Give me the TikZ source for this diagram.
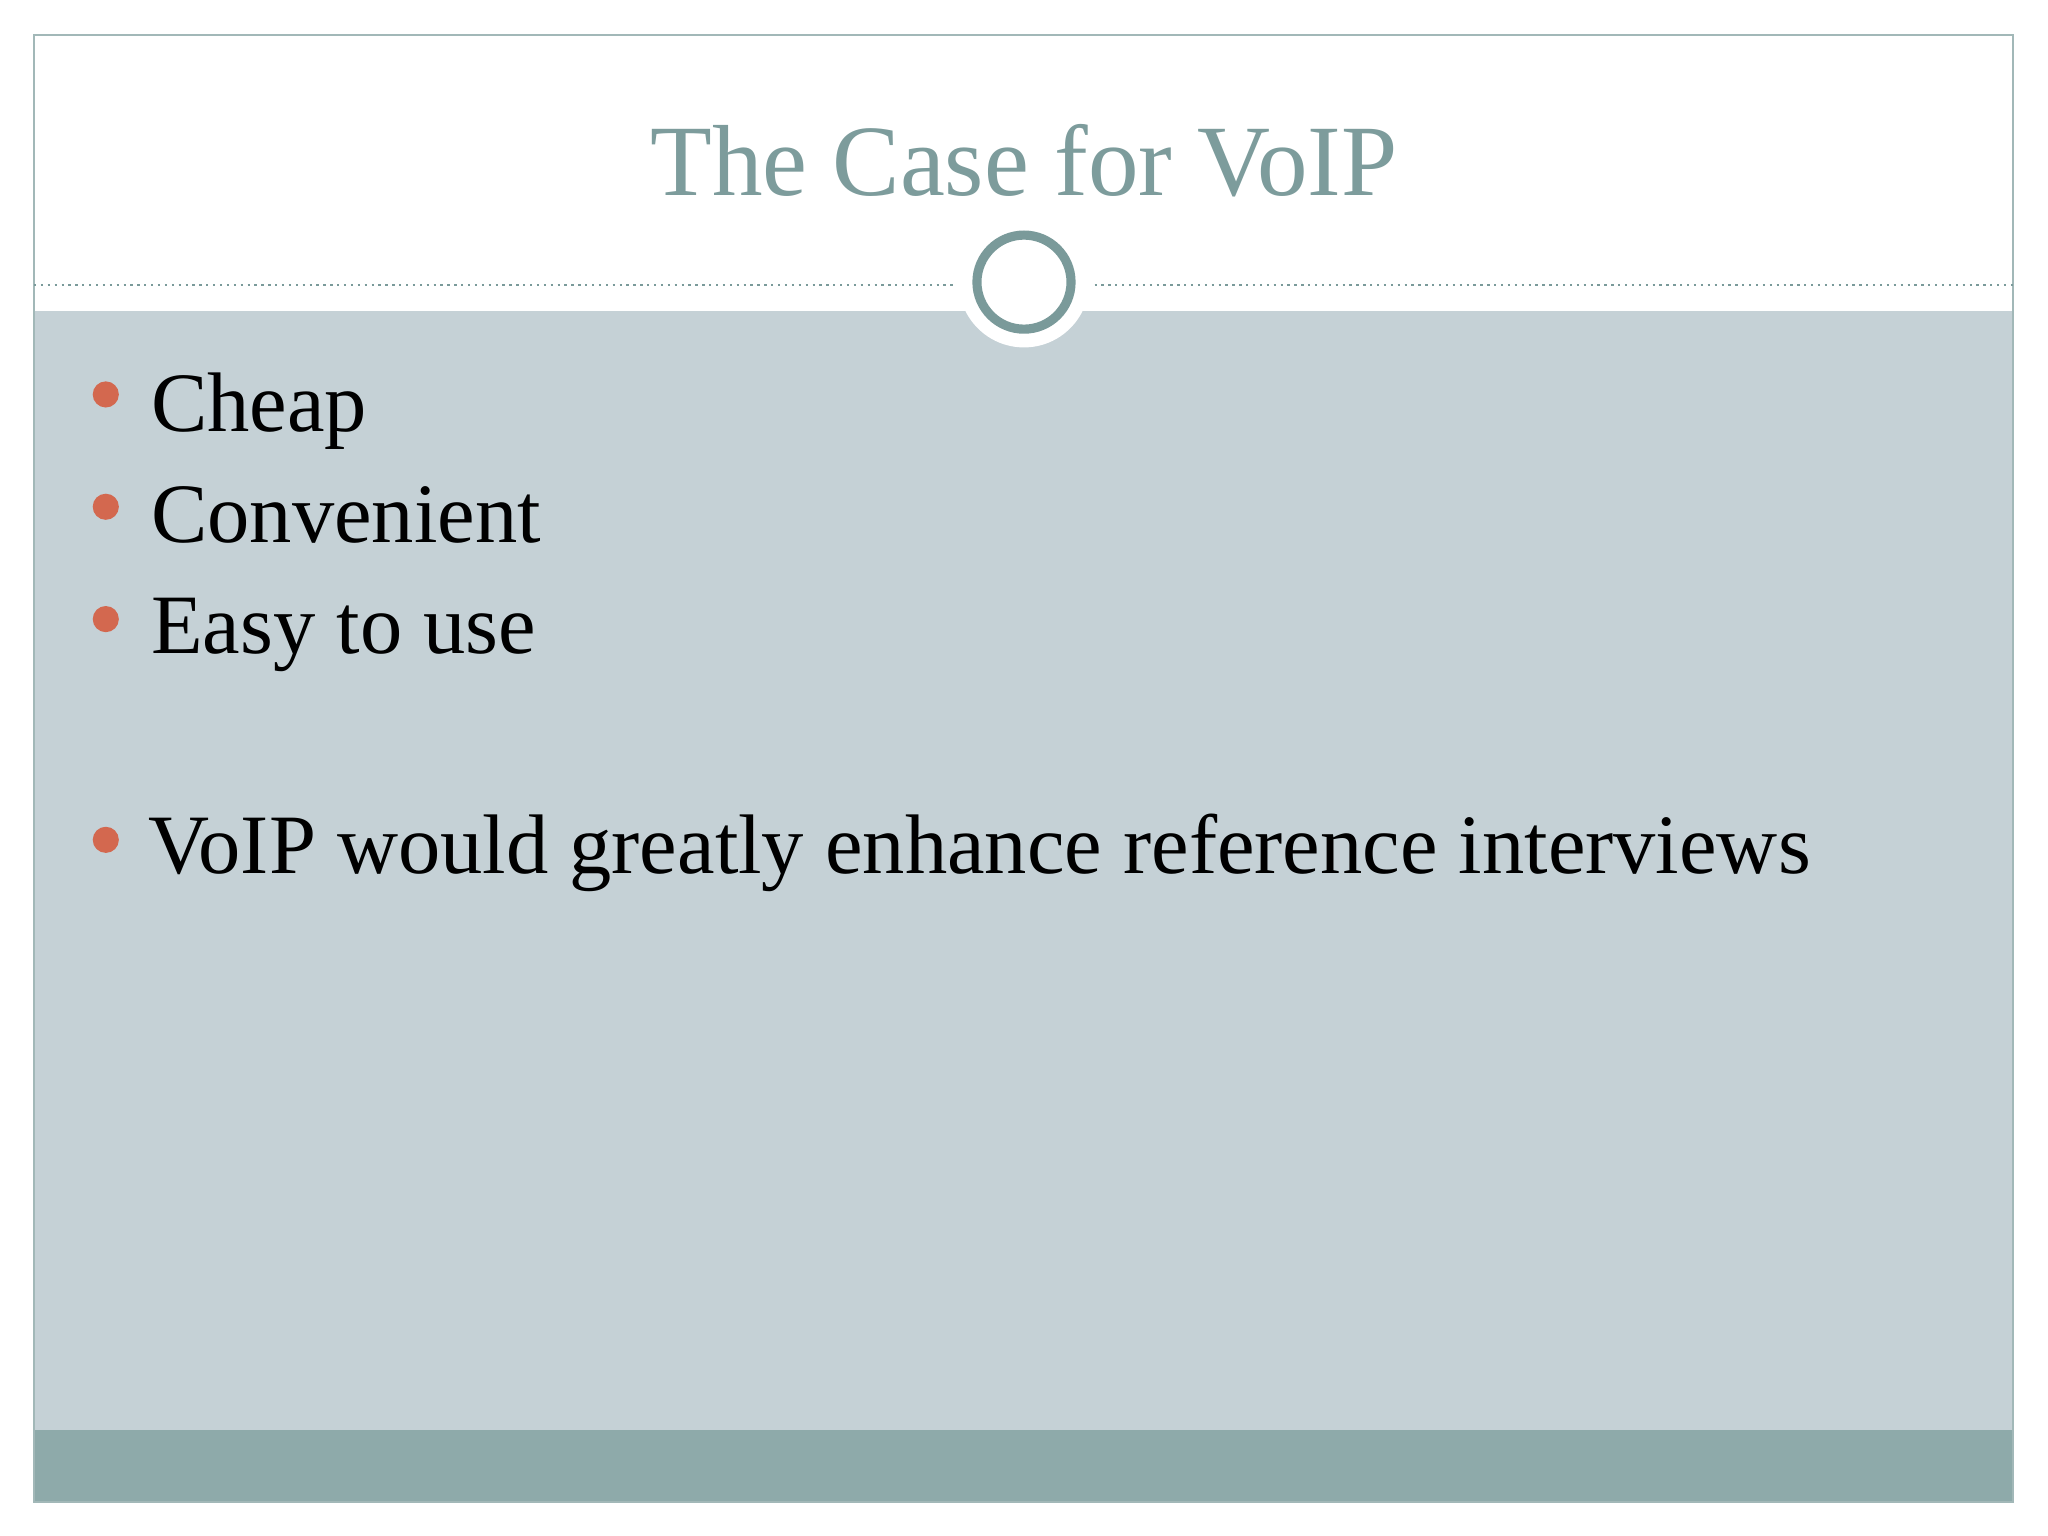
\documentclass[tikz,border=0pt]{standalone}
\usepackage{fontspec}
\setmainfont{Liberation Serif}
\definecolor{band}{HTML}{C5D1D6}
\definecolor{foot}{HTML}{8EAAAA}
\definecolor{ttl}{HTML}{7D9C9C}
\definecolor{ring}{HTML}{7A9A9A}
\definecolor{dot}{HTML}{D3684F}
\tikzset{item/.style={anchor=base west,inner sep=0pt,font=\fontsize{18.4}{22}\selectfont,text=black},
bul/.style={circle,fill=dot,minimum size=20*0.2845pt,inner sep=0pt}}
\begin{document}
\begin{tikzpicture}[x=0.01cm,y=-0.01cm]
\useasboundingbox (0,0) rectangle (1568,1176);
\fill[white] (0,0) rectangle (1568,1176);
\fill[band] (26,238) rectangle (1541,1095);
\fill[foot] (26,1095) rectangle (1541,1150);
\draw[ring!70,line width=0.4pt] (26,27) rectangle (1541,1150);
\draw[ring,densely dotted,line width=0.5pt] (26,218) -- (730,218);
\draw[ring,densely dotted,line width=0.5pt] (838,218) -- (1541,218);
\fill[white] (784,216) circle (50);
\node (ring) [circle,draw=ring,line width=7*0.2845pt,minimum size=72*0.2845pt,inner sep=0pt] at (784,216) {};
\node (title) [anchor=base,inner sep=0pt,text=ttl,font=\fontsize{22}{26}\selectfont] at (784,150) {The Case for VoIP};
\node (b1) [bul] at (81,302) {}; \node (t1) [item] at (115,330) {Cheap};
\node (b2) [bul] at (81,388) {}; \node (t2) [item] at (115,415) {Convenient};
\node (b3) [bul] at (81,474) {}; \node (t3) [item] at (115,500) {Easy to use};
\node (b4) [bul] at (81,643) {}; \node (t4) [item] at (113,669) {VoIP would greatly enhance reference interviews};
\end{tikzpicture}
\end{document}
